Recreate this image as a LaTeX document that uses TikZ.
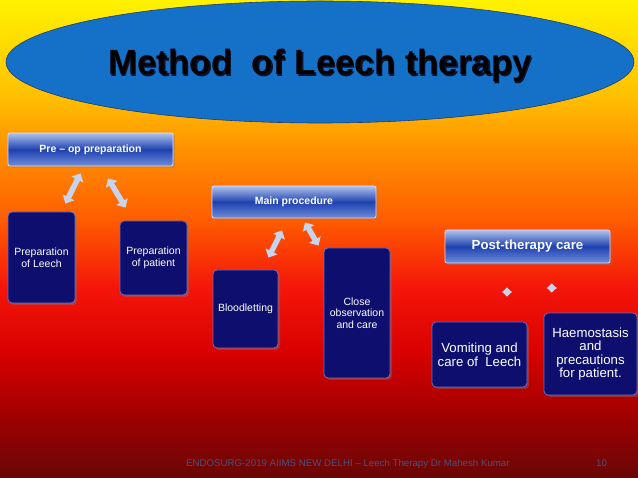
\documentclass[tikz,border=0pt]{standalone}
\usepackage{fontspec}
\setmainfont{Liberation Sans}
\usetikzlibrary{shapes.geometric,arrows.meta,shadows}
\definecolor{bgA}{RGB}{255,242,0}
\definecolor{bgB}{RGB}{255,192,0}
\definecolor{bgC}{RGB}{255,150,0}
\definecolor{bgD}{RGB}{255,92,0}
\definecolor{bgE}{RGB}{245,22,10}
\definecolor{bgF}{RGB}{215,0,0}
\definecolor{bgG}{RGB}{165,0,0}
\definecolor{bgH}{RGB}{105,6,6}
\definecolor{ellfill}{RGB}{21,112,200}
\definecolor{elledge}{RGB}{30,60,110}
\definecolor{hdrtop}{RGB}{175,195,238}
\definecolor{hdrmid}{RGB}{30,65,175}
\definecolor{hdrbot}{RGB}{110,140,218}
\definecolor{boxfill}{RGB}{14,14,110}
\definecolor{boxedge}{RGB}{110,110,190}
\definecolor{arrowc}{RGB}{200,212,235}
\definecolor{footc}{RGB}{72,82,122}
\definecolor{titleshadow}{RGB}{10,18,45}
\pgfdeclareverticalshading{bgshade}{100bp}{color(0bp)=(bgH); color(25bp)=(bgH); color(32bp)=(bgG); color(38bp)=(bgF); color(45bp)=(bgE); color(52bp)=(bgD); color(60bp)=(bgC); color(65bp)=(bgB); color(75bp)=(bgA); color(100bp)=(bgA)}
\tikzset{
  hdr/.style={rectangle, rounded corners=2pt, draw=white!85!blue, line width=0.8pt,
    top color=hdrtop, bottom color=hdrbot, middle color=hdrmid, text=white,
    inner sep=0pt, align=center,
    drop shadow={opacity=0.35, shadow xshift=2pt, shadow yshift=-2pt}},
  bx/.style={rectangle, rounded corners=4pt, draw=boxedge, line width=0.8pt,
    fill=boxfill, text=white, align=center, inner sep=0pt,
    drop shadow={opacity=0.35, shadow xshift=2pt, shadow yshift=-2pt}},
  blockarr/.style={draw=arrowc, line width=5.5pt,
    arrows={Triangle[length=7pt,width=13pt]-Triangle[length=7pt,width=13pt]}},
  tinyarr/.style={draw=arrowc, line width=1pt,
    arrows={Triangle[length=5pt,width=10pt]-Triangle[length=5pt,width=10pt]}},
  smallfont/.style={font=\fontsize{10.5}{11.5}\selectfont},
  bigfont/.style={font=\fontsize{13.2}{13.6}\selectfont},
}
\begin{document}
\begin{tikzpicture}[x=1pt,y=-1pt]
\useasboundingbox (0,0) rectangle (638,478);
\shade[shading=bgshade] (0,0) rectangle (638,478);

% title ellipse
\node[ellipse, draw=elledge, line width=0.6pt, fill=ellfill, minimum width=628pt, minimum height=122pt, inner sep=0pt,
  font=\bfseries\fontsize{35}{40}\selectfont] (title) at (320,62)
  {\smash{\raisebox{-13pt}{\rlap{\hspace{1.5pt}\raisebox{-1.5pt}{\color{titleshadow}Method\ \ of Leech therapy}}Method\ \ of Leech therapy}}};

% headers
\node[hdr, minimum width=165pt, minimum height=33pt, font=\bfseries\fontsize{10.5}{12}\selectfont] (preop) at (90.5,149.5) {Pre -- op preparation};
\node[hdr, minimum width=164pt, minimum height=32pt, font=\bfseries\fontsize{10.5}{12}\selectfont] (main) at (294,202) {Main procedure};
\node[hdr, minimum width=165pt, minimum height=33pt, font=\bfseries\fontsize{13.2}{14}\selectfont] (post) at (527.5,246.5) {Post-therapy care};

% boxes
\node[bx, smallfont, minimum width=67pt, minimum height=91pt] (leech) at (41.5,257.5) {Preparation\\of Leech};
\node[bx, smallfont, minimum width=67pt, minimum height=74pt] (patient) at (153.5,258) {Preparation\\of patient};
\node[bx, smallfont, minimum width=65pt, minimum height=78pt] (blood) at (245.5,309) {Bloodletting};
\node[bx, smallfont, minimum width=66pt, minimum height=130pt] (close) at (357,313) {Close\\observation\\and care};
\node[bx, bigfont, minimum width=95pt, minimum height=65pt] (vomit) at (479.5,354.5) {Vomiting and\\care of\ \ Leech};
\node[bx, bigfont, minimum width=93pt, minimum height=82pt] (haem) at (590.5,354) {Haemostasis\\and\\precautions\\for patient.};

% connectors
\draw[blockarr, shorten <=9pt, shorten >=7.8pt] ([xshift=-14pt]leech.north east) -- ([xshift=-6.5pt]preop.south);
\draw[blockarr, shorten <=14pt, shorten >=15.2pt] ([xshift=10.3pt]preop.south) -- ([xshift=13.8pt]patient.north west);
\draw[blockarr, shorten <=13.4pt, shorten >=13.4pt] ([xshift=-16pt]blood.north east) -- ([xshift=-6pt]main.south);
\draw[blockarr, shorten <=4.6pt, shorten >=2.3pt] ([xshift=8.7pt]main.south) -- ([xshift=-4pt]close.north west);
\draw[tinyarr, shorten <=24pt, shorten >=25pt] ([xshift=-20.5pt]post.south) -- ([xshift=27.5pt]vomit.north);
\draw[tinyarr, shorten <=20pt, shorten >=20pt] ([xshift=24.5pt]post.south) -- ([xshift=8pt]haem.north west);

% footer
\node[anchor=base west, inner sep=0pt, text=footc, font=\fontsize{9.7}{11}\selectfont] (foot) at (186,466.5)
  {ENDOSURG-2019 AIIMS NEW DELHI -- Leech Therapy Dr Mahesh Kumar};
\node[anchor=base west, inner sep=0pt, text=footc, font=\fontsize{9.7}{11}\selectfont] (pagenum) at (596,466.5) {10};
\end{tikzpicture}
\end{document}
